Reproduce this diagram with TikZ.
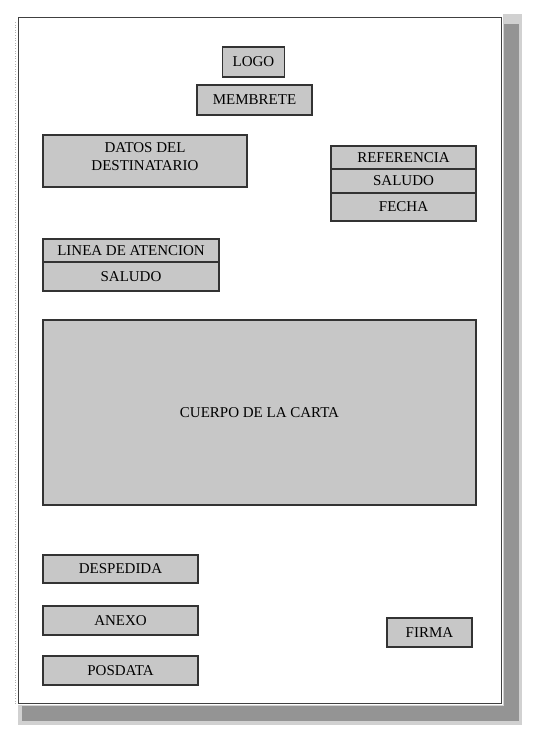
\documentclass[tikz,border=0pt]{standalone}
\usepackage{fontspec}
\setmainfont{Liberation Serif}
\begin{document}
\begin{tikzpicture}[x=1pt,y=-1pt,
  boxstyle/.style={draw=black!80, line width=1.1pt, fill=black!22, inner sep=0pt, font=\fontsize{15}{18}\selectfont, text=black},
  lbl/.style={inner sep=0pt, font=\fontsize{15}{18}\selectfont, align=center, text=black},
  pageframe/.style={draw=black!75, line width=1.4pt, fill=white}]
\useasboundingbox (0,0) rectangle (540,741);
% soft shadow
\fill[black!18] (503,14) rectangle (522,725);
\fill[black!18] (18,705) rectangle (522,725);
\fill[black!42] (504,24) rectangle (519,721);
\fill[black!42] (22,706) rectangle (519,721);
\draw[black!30, dotted, line width=0.6pt] (15,22) -- (15,705);
% page
\node[pageframe, minimum width=483pt, minimum height=686pt, anchor=north west, inner sep=0pt] (page) at (18,17) {};
% boxes
\node[boxstyle, minimum width=62pt, minimum height=30pt] (logo) at (253.5,62) {LOGO};
\node[boxstyle, minimum width=115pt, minimum height=30pt] (membrete) at (254.5,100) {MEMBRETE};
\node[boxstyle, minimum width=204pt, minimum height=52pt] (datos) at (145,161) {};
\node[lbl] (datostxt) at (145,157) {DATOS DEL\\DESTINATARIO};
\node[boxstyle, minimum width=145pt, minimum height=23pt] (ref) at (403.5,157.5) {REFERENCIA};
\node[boxstyle, minimum width=145pt, minimum height=24pt] (saludoa) at (403.5,181) {SALUDO};
\node[boxstyle, minimum width=145pt, minimum height=28pt] (fecha) at (403.5,207) {FECHA};
\node[boxstyle, minimum width=176pt, minimum height=23pt] (linea) at (131,250.5) {LINEA DE ATENCION};
\node[boxstyle, minimum width=176pt, minimum height=29pt] (saludob) at (131,276.5) {SALUDO};
\node[boxstyle, minimum width=433pt, minimum height=185pt] (cuerpo) at (259.5,412.5) {CUERPO DE LA CARTA};
\node[boxstyle, minimum width=155pt, minimum height=28pt] (despedida) at (120.5,569) {DESPEDIDA};
\node[boxstyle, minimum width=155pt, minimum height=29pt] (anexo) at (120.5,620.5) {ANEXO};
\node[boxstyle, minimum width=155pt, minimum height=29pt] (posdata) at (120.5,670.5) {POSDATA};
\node[boxstyle, minimum width=85pt, minimum height=29pt] (firma) at (429.5,632.5) {FIRMA};
\end{tikzpicture}
\end{document}
